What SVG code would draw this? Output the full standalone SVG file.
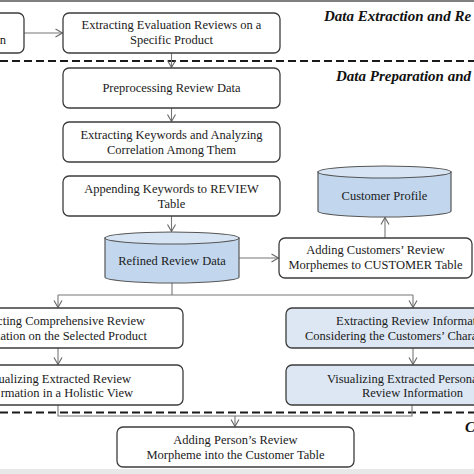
<svg xmlns="http://www.w3.org/2000/svg" width="474" height="474" viewBox="0 0 474 474">
<defs>
<style>
.box{fill:#fff;stroke:#3c3c3c;stroke-width:1.3}
.bbox{fill:#dde7f3;stroke:#3c3c3c;stroke-width:1.3}
.cyl{fill:#c2d7ee;stroke:#555;stroke-width:1.2}
.cyltop{fill:#d6e4f4;stroke:#555;stroke-width:1.2}
.t{font-family:"Liberation Serif","Times New Roman",serif;font-size:12.5px;fill:#1a1a1a;text-anchor:middle}
.ts{text-anchor:start}
.te{text-anchor:end}
.h{font-family:"Liberation Serif","Times New Roman",serif;font-size:15px;font-weight:bold;font-style:italic;fill:#111}
.dash{stroke:#1a1a1a;stroke-width:2;stroke-dasharray:8 4;fill:none}
.c{stroke:#777;stroke-width:1.1;fill:none}
.ca{stroke:#777;stroke-width:1.1;fill:none;marker-end:url(#ah)}
</style>
<marker id="ah" viewBox="0 0 10 10" refX="9" refY="5" markerWidth="10" markerHeight="10" markerUnits="userSpaceOnUse" orient="auto">
<path d="M2,1 L9,5 L2,9" fill="none" stroke="#666" stroke-width="1.1"/>
</marker>
</defs>
<rect x="0" y="0" width="474" height="474" fill="#fff"/>
<rect x="0" y="0" width="474" height="2" fill="#808080"/>
<rect x="0" y="469" width="474" height="5" fill="#e8e8e8"/>

<g id="dividers">
<line class="dash" x1="0" y1="61" x2="474" y2="61"/>
<line class="dash" x1="0" y1="412.5" x2="474" y2="412.5"/>
</g>
<g id="headings">
<text class="h" x="324" y="21">Data Extraction and Re</text>
<text class="h" x="336" y="81">Data Preparation and</text>
<text class="h" x="465" y="432">C</text>
</g>

<g id="connectors">
<path class="ca" d="M24,33 H62.5"/>
<path class="ca" d="M171.5,53 V67.5"/>
<path class="ca" d="M171.5,108 V121.5"/>
<path class="ca" d="M171.5,216 V231.5"/>
<path class="ca" d="M239,258 H278.5"/>
<path class="ca" d="M385,238 V217.5"/>
<path class="c" d="M172,283 V295 M58,295 H413"/>
<path class="ca" d="M58,295 V307.5"/>
<path class="ca" d="M413,295 V307.5"/>
<path class="ca" d="M58,348 V364.5"/>
<path class="ca" d="M413,348 V364.5"/>
<path class="c" d="M58,405 V416 H412 V405"/>
<path class="ca" d="M235,416 V426.5"/>
</g>

<g id="n-source">
<rect class="box" x="-100" y="13" width="124" height="40" rx="6"/>
<text class="t te" x="6" y="44">n</text>
</g>
<g id="n-extract">
<rect class="box" x="63" y="13" width="217" height="40" rx="6"/>
<text class="t" x="171.5" y="29">Extracting Evaluation Reviews on a</text>
<text class="t" x="171.5" y="44">Specific Product</text>
</g>
<g id="n-preprocess">
<rect class="box" x="63" y="68" width="217" height="40" rx="6"/>
<text class="t" x="171.5" y="92">Preprocessing Review Data</text>
</g>
<g id="n-keywords">
<rect class="box" x="63" y="122" width="217" height="40" rx="6"/>
<text class="t" x="171.5" y="139">Extracting Keywords and Analyzing</text>
<text class="t" x="171.5" y="154">Correlation Among Them</text>
</g>
<g id="n-append">
<rect class="box" x="63" y="176" width="217" height="40" rx="6"/>
<text class="t" x="171.5" y="193">Appending Keywords to REVIEW</text>
<text class="t" x="171.5" y="208">Table</text>
</g>
<g id="n-refined">
<path class="cyl" d="M105,238 V277 A67,6 0 0 0 239,277 V238 Z"/>
<ellipse class="cyltop" cx="172" cy="238" rx="67" ry="6"/>
<text class="t" x="172" y="265">Refined Review Data</text>
</g>
<g id="n-profile">
<path class="cyl" d="M318,172 V211 A66.5,6 0 0 0 451,211 V172 Z"/>
<ellipse class="cyltop" cx="384.5" cy="172" rx="66.5" ry="6"/>
<text class="t" x="384.5" y="200">Customer Profile</text>
</g>
<g id="n-morphemes">
<rect class="box" x="279" y="238" width="193" height="40" rx="6"/>
<text class="t" x="375.5" y="254">Adding Customers’ Review</text>
<text class="t" x="375.5" y="269">Morphemes to CUSTOMER Table</text>
</g>
<g id="n-comprehensive">
<rect class="box" x="-70" y="308" width="253" height="40" rx="6"/>
<text class="t te" x="145" y="325">cting Comprehensive Review</text>
<text class="t te" x="147" y="340">uation on the Selected Product</text>
</g>
<g id="n-holistic">
<rect class="box" x="-70" y="365" width="253" height="40" rx="6"/>
<text class="t te" x="131" y="383">ualizing Extracted Review</text>
<text class="t te" x="133" y="397">rmation in a Holistic View</text>
</g>
<g id="n-characteristics">
<rect class="bbox" x="286" y="308" width="260" height="40" rx="6"/>
<text class="t ts" x="336" y="325">Extracting Review Informat</text>
<text class="t ts" x="305" y="340">Considering the Customers’ Chara</text>
</g>
<g id="n-personal">
<rect class="bbox" x="286" y="365" width="260" height="40" rx="6"/>
<text class="t ts" x="327" y="383">Visualizing Extracted Persona</text>
<text class="t" x="412.5" y="397">Review Information</text>
</g>
<g id="n-person">
<rect class="box" x="117" y="427" width="237" height="40" rx="6"/>
<text class="t" x="235.5" y="444">Adding Person’s Review</text>
<text class="t" x="235.5" y="459">Morpheme into the Customer Table</text>
</g>
</svg>
